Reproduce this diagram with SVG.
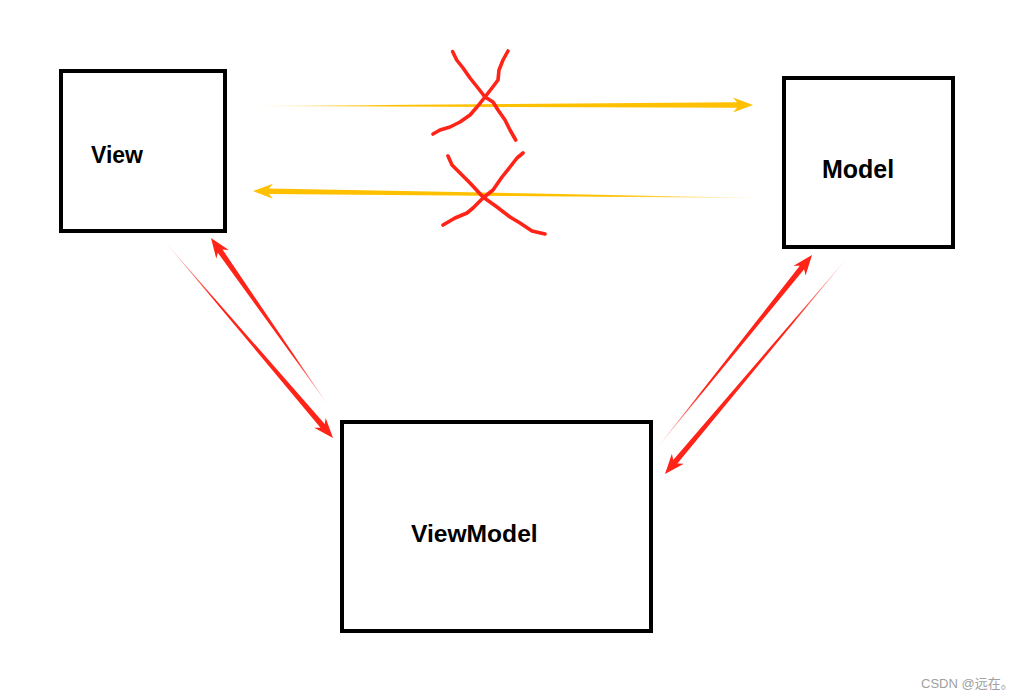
<svg xmlns="http://www.w3.org/2000/svg" width="1025" height="699" viewBox="0 0 1025 699">
<style>
.box{fill:none;stroke:#000;stroke-width:4}
.lbl{font-family:"Liberation Sans",Arial,sans-serif;font-weight:bold;font-size:24px;fill:#000}
.cross{fill:none;stroke:#ff2318;stroke-width:3.6;stroke-linecap:round;stroke-linejoin:round}
.wm{font-family:"Liberation Sans","Noto Sans CJK SC",sans-serif;font-size:13px;fill:#a0a0a0}
</style>
<defs>
<linearGradient id="gy1" gradientUnits="userSpaceOnUse" x1="240" y1="106" x2="753" y2="105"><stop offset="0" stop-color="#ffc000" stop-opacity="0.2"/><stop offset="0.3" stop-color="#ffc000"/><stop offset="1" stop-color="#ffc000"/></linearGradient>
<linearGradient id="gy2" gradientUnits="userSpaceOnUse" x1="762" y1="198" x2="253" y2="191"><stop offset="0" stop-color="#ffc000" stop-opacity="0.2"/><stop offset="0.3" stop-color="#ffc000"/><stop offset="1" stop-color="#ffc000"/></linearGradient>
<linearGradient id="gr1" gradientUnits="userSpaceOnUse" x1="166" y1="243" x2="333" y2="438"><stop offset="0" stop-color="#ff2318" stop-opacity="0.2"/><stop offset="0.3" stop-color="#ff2318"/><stop offset="1" stop-color="#ff2318"/></linearGradient>
<linearGradient id="gr2" gradientUnits="userSpaceOnUse" x1="328" y1="405" x2="211" y2="238"><stop offset="0" stop-color="#ff2318" stop-opacity="0.2"/><stop offset="0.3" stop-color="#ff2318"/><stop offset="1" stop-color="#ff2318"/></linearGradient>
<linearGradient id="gr3" gradientUnits="userSpaceOnUse" x1="657" y1="448" x2="812" y2="255"><stop offset="0" stop-color="#ff2318" stop-opacity="0.2"/><stop offset="0.3" stop-color="#ff2318"/><stop offset="1" stop-color="#ff2318"/></linearGradient>
<linearGradient id="gr4" gradientUnits="userSpaceOnUse" x1="847" y1="258" x2="665" y2="474"><stop offset="0" stop-color="#ff2318" stop-opacity="0.2"/><stop offset="0.3" stop-color="#ff2318"/><stop offset="1" stop-color="#ff2318"/></linearGradient>
</defs>
<rect width="1025" height="699" fill="#fff"/>
<g id="view"><rect class="box" x="61" y="71" width="164" height="160"/><text class="lbl" x="91" y="163" style="font-size:23px">View</text></g>
<g id="model"><rect class="box" x="784" y="78" width="169" height="169"/><text class="lbl" x="822" y="178" style="font-size:25px">Model</text></g>
<g id="viewmodel"><rect class="box" x="342" y="422" width="309" height="209"/><text class="lbl" x="411" y="542" style="font-size:24.6px">ViewModel</text></g>
<g id="connectors">
<polygon fill="url(#gy1)" points="240,106 737,107.8 733,112.5 753,105 733,97.5 737,102.2"/>
<polygon fill="url(#gy2)" points="762,198 269,188.4 273,183.8 253,191 273,198.8 269,194"/>
<polygon fill="url(#gr1)" points="166,243 320.5,427.7 314.2,427.8 333,438 325.7,417.9 324.7,424"/>
<polygon fill="url(#gr2)" points="328,405 222.5,249.5 228.8,250 211,238 216.3,258.8 217.8,252.7"/>
<polygon fill="url(#gr3)" points="657,448 804.1,269.3 805.6,275.4 812,255 793.6,265.8 799.8,265.7"/>
<polygon fill="url(#gr4)" points="847,258 673.2,460 671.9,453.8 665,474 683.8,463.7 677.4,463.6"/>
</g>
<g id="crosses">
<path class="cross" d="M452.7,51.7 L456.7,60 L463,68 L470,78 L478,88 L485,97 L493,102 L498,110 L505,120 L510,130 L515.7,140"/>
<path class="cross" d="M508,51 L503,60 L499,70 L498,80 L492,88 L485,97 L477,107 L470,115 L460,122 L450,127 L440,130 L433,134"/>
<path class="cross" d="M448,156 L452,165 L460,173 L470,183 L483,197 L497,207 L510,217 L520,223 L532,231 L545,234"/>
<path class="cross" d="M523,153 L517,158 L510,167 L502,177 L493,190 L483,198 L473,208 L467,213 L455,218 L443,225"/>
</g>
<text class="wm" x="921" y="688">CSDN @远在。</text>
</svg>
